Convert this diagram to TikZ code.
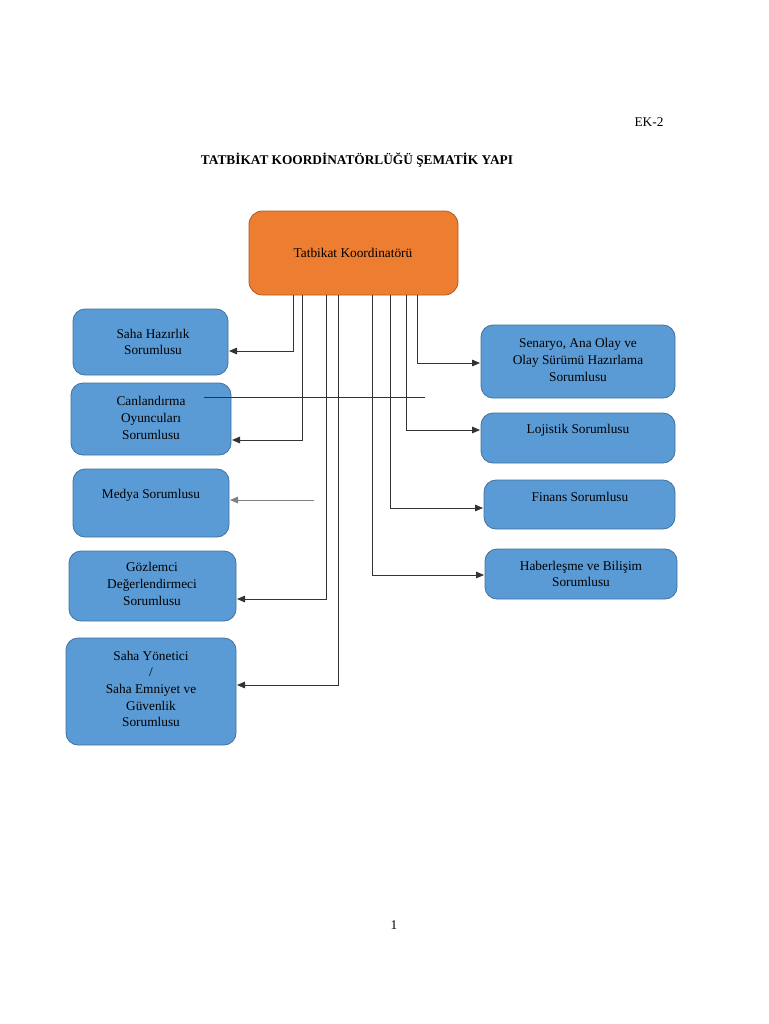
\documentclass[tikz,border=0pt]{standalone}
\usepackage{fontspec}
\setmainfont{Liberation Serif}
\usetikzlibrary{arrows.meta}
\definecolor{bbox}{HTML}{5B9BD5}
\definecolor{bedge}{HTML}{41719C}
\definecolor{obox}{HTML}{ED7D31}
\definecolor{oedge}{HTML}{AE5A21}
\begin{document}
\begin{tikzpicture}[x=0.75pt,y=-0.75pt,
  blue/.style={draw=bedge,fill=bbox,rounded corners=9pt,line width=0.6pt},
  orange/.style={draw=oedge,fill=obox,rounded corners=10pt,line width=0.6pt},
  lbl/.style={align=center,font=\fontsize{10}{12.5}\selectfont,inner sep=0pt},
  con/.style={line width=0.6pt,black!80},
  arr/.style={con,-{Triangle[length=6pt,width=5pt]}}]
\useasboundingbox (0,0) rectangle (768,1024);
\node[lbl] (ek) at (649,122) {EK-2};
\node[lbl,font=\fontsize{10}{12}\selectfont\bfseries] (title) at (357,160) {TATBİKAT KOORDİNATÖRLÜĞÜ ŞEMATİK YAPI};
\node[lbl] (pg) at (394,925) {1};
\draw[orange] (249,211) rectangle (458,295);
\node[lbl] (top) at (353,253) {Tatbikat Koordinatörü};
% left boxes
\draw[blue] (73,309) rectangle (228,375);
\node[lbl] (b1) at (153,342) {Saha Hazırlık\\Sorumlusu};
\draw[blue] (71,383) rectangle (231,455);
\node[lbl] (b2) at (151,418) {Canlandırma\\Oyuncuları\\Sorumlusu};
\draw[blue] (73,469) rectangle (229,537);
\node[lbl] (b3) at (151,495) {Medya Sorumlusu};
\draw[blue] (69,551) rectangle (236,621);
\node[lbl] (b4) at (152,584) {Gözlemci\\Değerlendirmeci\\Sorumlusu};
\draw[blue] (66,638) rectangle (236,745);
\node[lbl] (b5) at (151,689) {Saha Yönetici\\/\\Saha Emniyet ve\\Güvenlik\\Sorumlusu};
% right boxes
\draw[blue] (481,325) rectangle (675,398);
\node[lbl] (r1) at (578,360) {Senaryo, Ana Olay ve\\Olay Sürümü Hazırlama\\Sorumlusu};
\draw[blue] (481,413) rectangle (675,463);
\node[lbl] (r2) at (578,430) {Lojistik Sorumlusu};
\draw[blue] (484,480) rectangle (675,529);
\node[lbl] (r3) at (580,497) {Finans Sorumlusu};
\draw[blue] (485,549) rectangle (677,599);
\node[lbl] (r4) at (581,574) {Haberleşme ve Bilişim\\Sorumlusu};
% connectors
\coordinate (m1) at (314,500);
\draw[arr] (293,295) |- (229,351);
\draw[arr] (302,295) |- (232,440);
\draw[arr,black!50] (m1) -- (230,500);
\draw[arr] (326,295) |- (237,599);
\draw[arr] (338,295) |- (237,685);
\draw[arr] (417,295) |- (480,363);
\draw[arr] (406,295) |- (480,430);
\draw[arr] (390,295) |- (483,508);
\draw[arr] (372,295) |- (484,575);
\coordinate (h1) at (204,397); \coordinate (h2) at (425,397);
\draw[con] (h1) -- (h2);
\end{tikzpicture}
\end{document}
